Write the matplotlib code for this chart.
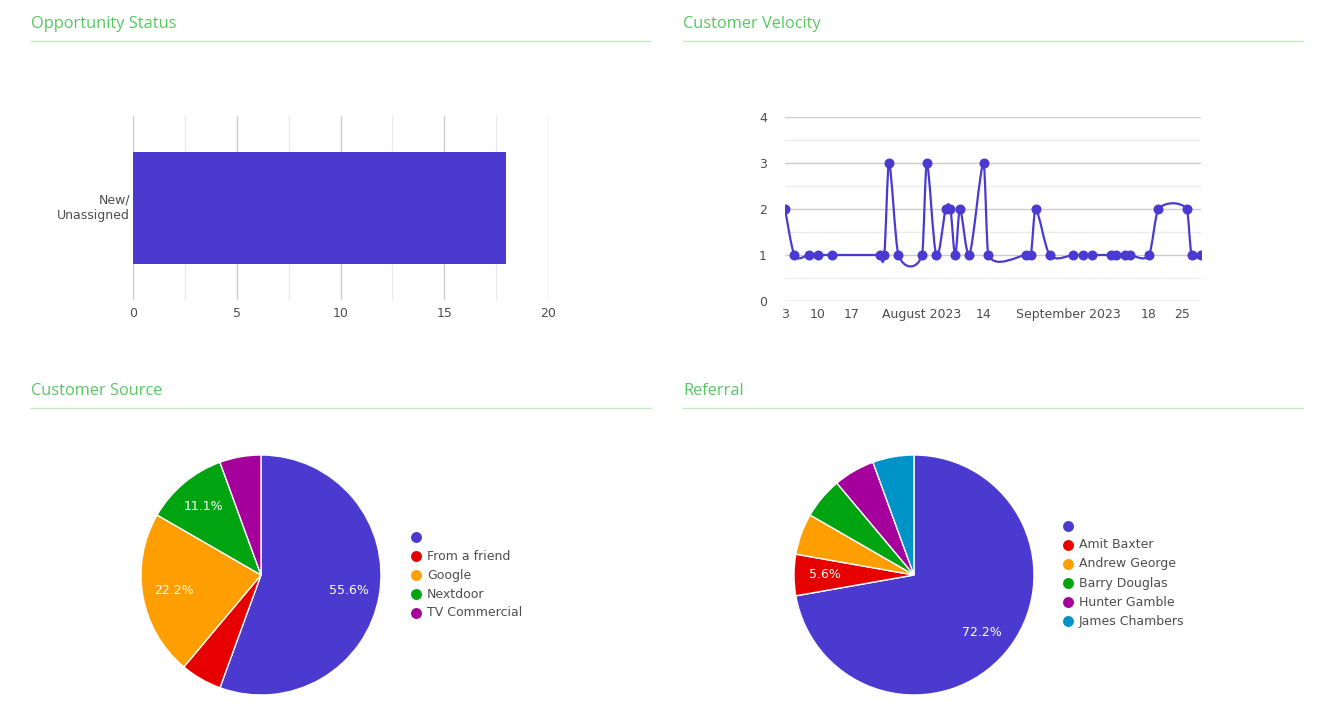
import numpy as np
import pandas as pd
import matplotlib
matplotlib.use("Agg")
import matplotlib.pyplot as plt
import matplotlib.dates as mdates
from matplotlib.path import Path
from matplotlib.patches import PathPatch

# Data
status_labels = ["New/\nUnassigned"]
status_counts = [18]

vel_dates = ["2023-07-03", "2023-07-05", "2023-07-08", "2023-07-10", "2023-07-13",
             "2023-07-23", "2023-07-24", "2023-07-25", "2023-07-27", "2023-08-01",
             "2023-08-02", "2023-08-04", "2023-08-06", "2023-08-07", "2023-08-08",
             "2023-08-09", "2023-08-11", "2023-08-14", "2023-08-15", "2023-08-23",
             "2023-08-24", "2023-08-25", "2023-08-28", "2023-09-02", "2023-09-04",
             "2023-09-06", "2023-09-10", "2023-09-11", "2023-09-13", "2023-09-14",
             "2023-09-18", "2023-09-20", "2023-09-26", "2023-09-27", "2023-09-29"]
vel_counts = [2, 1, 1, 1, 1, 1, 1, 3, 1, 1, 3, 1, 2, 2, 1, 2, 1, 3, 1, 1,
              1, 2, 1, 1, 1, 1, 1, 1, 1, 1, 1, 2, 2, 1, 1]
vel_tick_dates = ["2023-07-03", "2023-07-10", "2023-07-17", "2023-08-01",
                  "2023-08-14", "2023-09-01", "2023-09-18", "2023-09-25"]
vel_tick_labels = ["3", "10", "17", "August 2023", "14", "September 2023", "18", "25"]

source_labels = ["", "From a friend", "Google", "Nextdoor", "TV Commercial"]
source_counts = [10, 1, 4, 2, 1]
source_show_pct = [True, False, True, True, False]

referral_labels = ["", "Amit Baxter", "Andrew George", "Barry Douglas", "Hunter Gamble", "James Chambers"]
referral_counts = [13, 1, 1, 1, 1, 1]
referral_show_pct = [True, True, False, False, False, False]

PURPLE = "#4B3AD0"
pie_colors = [PURPLE, "#E60000", "#FF9E00", "#00A410", "#A5009B", "#0093C8"]
TITLE_C = "#55C960"
LINE_C = "#C3EBC3"
TXT = "#4D4D4D"
MAJOR = "#CCCCCC"
MINOR = "#EBEBEB"

W, H = 1325, 724
fig = plt.figure(figsize=(W / 100, H / 100), dpi=100)
fig.patch.set_facecolor("white")


def box(x0, y0, x1, y1):
    return [x0 / W, 1 - y1 / H, (x1 - x0) / W, (y1 - y0) / H]


# overlay in pixel coords for titles / legends
ov = fig.add_axes([0, 0, 1, 1], zorder=5)
ov.set_xlim(0, W)
ov.set_ylim(H, 0)
ov.axis("off")
ov.patch.set_alpha(0)

titles = [("Opportunity Status", 31, 23, 651, 41), ("Customer Velocity", 683, 23, 1303, 41),
          ("Customer Source", 31, 390, 651, 408), ("Referral", 683, 390, 1303, 408)]
for t, x, y, x2, yl in titles:
    ov.text(x, y + 1, t, fontsize=11.8, family="Open Sans", color=TITLE_C, va="center", ha="left")
    ov.plot([x, x2], [yl, yl], color=LINE_C, lw=1)

# Opportunity Status bar chart
ax1 = fig.add_axes(box(133, 116, 548, 300))
ax1.barh([0], status_counts, height=0.614, color=PURPLE, zorder=3)
ax1.set_xlim(0, 20)
ax1.set_ylim(-0.5, 0.5)
for v in np.arange(0, 20.1, 2.5):
    ax1.axvline(v, color=MAJOR if v % 5 == 0 else MINOR, lw=1, zorder=1)
ax1.set_xticks([0, 5, 10, 15, 20])
ax1.set_yticks([0])
ax1.set_yticklabels(status_labels, ha="right", va="center", linespacing=1.3)
ax1.tick_params(length=0, colors=TXT, labelsize=9)
ax1.tick_params(axis="x", pad=5)
ax1.tick_params(axis="y", pad=2)
for s in ax1.spines.values():
    s.set_visible(False)

# Customer Velocity line chart
ax2 = fig.add_axes(box(785, 117, 1201, 301))
xd = mdates.date2num(pd.to_datetime(vel_dates))
yv = np.array(vel_counts, dtype=float)
# smooth curve through the points (cardinal spline drawn as bezier path,
# control points kept within a third of each segment's x range)
verts = [(xd[0], yv[0])]
codes = [Path.MOVETO]
n = len(xd)
for i in range(n - 1):
    p0 = np.array([xd[max(i - 1, 0)], yv[max(i - 1, 0)]])
    p1 = np.array([xd[i], yv[i]])
    p2 = np.array([xd[i + 1], yv[i + 1]])
    p3 = np.array([xd[min(i + 2, n - 1)], yv[min(i + 2, n - 1)]])
    t1 = (p2 - p0) / 6
    t2 = (p3 - p1) / 6
    lim = (p2[0] - p1[0]) / 3
    if t1[0] > lim:
        t1 = t1 * lim / t1[0]
    if t2[0] > lim:
        t2 = t2 * lim / t2[0]
    c1 = p1 + t1
    c2 = p2 - t2
    verts += [tuple(c1), tuple(c2), tuple(p2)]
    codes += [Path.CURVE4] * 3
ax2.add_patch(PathPatch(Path(verts, codes), fill=False, edgecolor=PURPLE, lw=1.6, zorder=3))
ax2.plot(xd, yv, "o", color=PURPLE, ms=6.2, zorder=4)
ax2.set_xlim(xd[0], xd[-1])
ax2.set_ylim(0, 4)
for v in np.arange(0.5, 4.01, 0.5):
    ax2.axhline(v, color=MAJOR if v % 1 == 0 else MINOR, lw=1, zorder=1)
ax2.axhline(0, color="#BBBBBB", lw=1, zorder=2)
ax2.set_yticks([0, 1, 2, 3, 4])
ax2.set_xticks(mdates.date2num(pd.to_datetime(vel_tick_dates)))
ax2.set_xticklabels(vel_tick_labels)
ax2.tick_params(length=0, colors=TXT, labelsize=9)
ax2.tick_params(axis="x", pad=5)
ax2.tick_params(axis="y", pad=13)
for s in ax2.spines.values():
    s.set_visible(False)


def draw_pie(cx, cy, counts, labels, show, leg_x, leg_y):
    ax = fig.add_axes(box(cx - 120, cy - 120, cx + 120, cy + 120))
    wedges, _ = ax.pie(counts, colors=pie_colors[:len(counts)], startangle=90, counterclock=False,
                       wedgeprops=dict(edgecolor="white", linewidth=1))
    ax.set_xlim(-1, 1)
    ax.set_ylim(-1, 1)
    total = sum(counts)
    for w, c, sh in zip(wedges, counts, show):
        if not sh:
            continue
        a = np.deg2rad((w.theta1 + w.theta2) / 2)
        ax.text(0.74 * np.cos(a), 0.74 * np.sin(a), f"{100 * c / total:.1f}%",
                color="white", fontsize=9, ha="center", va="center")
    for i, lab in enumerate(labels):
        yy = leg_y + i * 19
        ov.scatter([leg_x], [yy], s=62, color=pie_colors[i], linewidths=0)
        ov.text(leg_x + 11, yy, lab, fontsize=9, color=TXT, va="center", ha="left")


draw_pie(261, 575, source_counts, source_labels, source_show_pct, 416, 537)
draw_pie(914, 575, referral_counts, referral_labels, referral_show_pct, 1068, 526)

fig.savefig("out.png", dpi=100)
